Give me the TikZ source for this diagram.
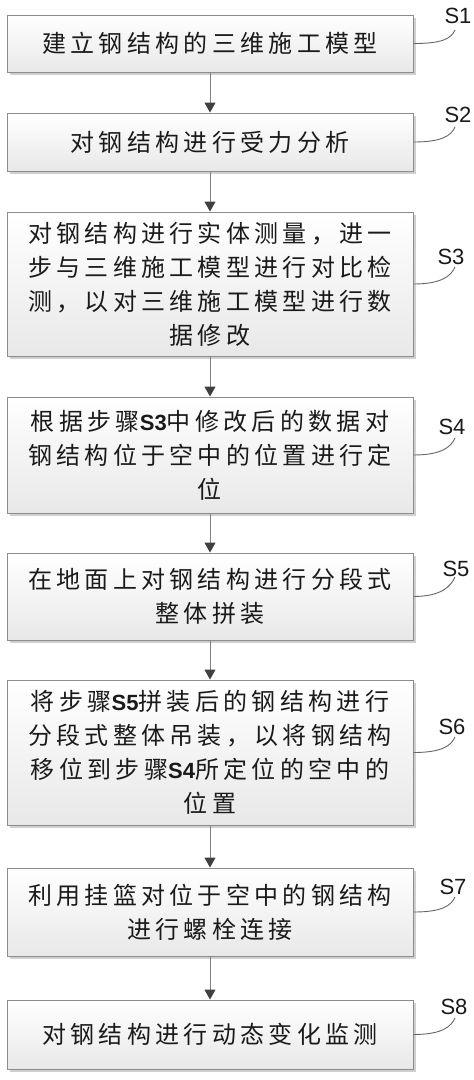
\documentclass[tikz,border=0pt]{standalone}
\usepackage{fontspec}
\newfontfamily\cjk[LetterSpace=18]{Noto Sans CJK SC}
\newfontfamily\lat{Liberation Sans}
\usetikzlibrary{arrows.meta,shadows}
\definecolor{boxline}{HTML}{8C8C8C}
\definecolor{arrline}{HTML}{808080}
\definecolor{tipc}{HTML}{404040}
\definecolor{txt}{HTML}{1A1A1A}
\newcommand{\mystepref}[1]{{\lat\bfseries\fontsize{22}{34}\selectfont #1}}
\tikzset{
  stepbox/.style={draw=boxline, line width=1pt, top color=white, bottom color=black!9,
    minimum width=406pt, inner sep=0pt, align=center, text=txt,
    font=\cjk\fontsize{24}{34}\selectfont,
    drop shadow={shadow xshift=2.5pt, shadow yshift=-2.5pt, fill=black!30, opacity=0.6}},
  flow/.style={draw=arrline, line width=1pt, -{Triangle[width=11pt,length=10pt,color=tipc]}},
  tag/.style={font=\lat\fontsize{22}{26}\selectfont, text=txt, inner sep=0pt},
  lead/.style={draw=tipc!80, line width=0.9pt}
}
\begin{document}
\begin{tikzpicture}[x=1pt,y=-1pt]
\useasboundingbox (0,0) rectangle (474,1080);
\fill[white] (0,0) rectangle (474,1080);

\node[stepbox, minimum height=57pt] (b1) at (210,43.5) {建立钢结构的三维施工模型};
\node[stepbox, minimum height=58pt] (b2) at (210,142) {对钢结构进行受力分析};
\node[stepbox, minimum height=144pt] (b3) at (210,284) {对钢结构进行实体测量，进一\\步与三维施工模型进行对比检\\测，以对三维施工模型进行数\\据修改};
\node[stepbox, minimum height=116pt] (b4) at (210,455) {根据步骤\mystepref{S3}中修改后的数据对\\钢结构位于空中的位置进行定\\位};
\node[stepbox, minimum height=87pt] (b5) at (210,596.5) {在地面上对钢结构进行分段式\\整体拼装};
\node[stepbox, minimum height=145pt] (b6) at (210,752.5) {将步骤\mystepref{S5}拼装后的钢结构进行\\分段式整体吊装，以将钢结构\\移位到步骤\mystepref{S4}所定位的空中的\\位置};
\node[stepbox, minimum height=88pt] (b7) at (210,912) {利用挂篮对位于空中的钢结构\\进行螺栓连接};
\node[stepbox, minimum height=69pt] (b8) at (210,1034.5) {对钢结构进行动态变化监测};

\draw[flow] (b1) -- (b2);
\draw[flow] (b2) -- (b3);
\draw[flow] (b3) -- (b4);
\draw[flow] (b4) -- (b5);
\draw[flow] (b5) -- (b6);
\draw[flow] (b6) -- (b7);
\draw[flow] (b7) -- (b8);

\node[tag] (l1) at (458,16) {S1};
\node[tag] (l2) at (458,115) {S2};
\node[tag] (l3) at (451,257) {S3};
\node[tag] (l4) at (452,427) {S4};
\node[tag] (l5) at (456,569) {S5};
\node[tag] (l6) at (452,727) {S6};
\node[tag] (l7) at (453,887) {S7};
\node[tag] (l8) at (454,1007) {S8};

\coordinate (c1) at (455,30);
\coordinate (c2) at (455,127);
\coordinate (c3) at (455,267);
\coordinate (c4) at (455,438);
\coordinate (c5) at (455,577);
\coordinate (c6) at (455,737);
\coordinate (c7) at (455,897);
\coordinate (c8) at (455,1018);

\foreach \i in {1,...,8}{
  \draw[lead] (b\i.east) .. controls +(28,0) and +(-4,9) .. (c\i);
}
\end{tikzpicture}
\end{document}
